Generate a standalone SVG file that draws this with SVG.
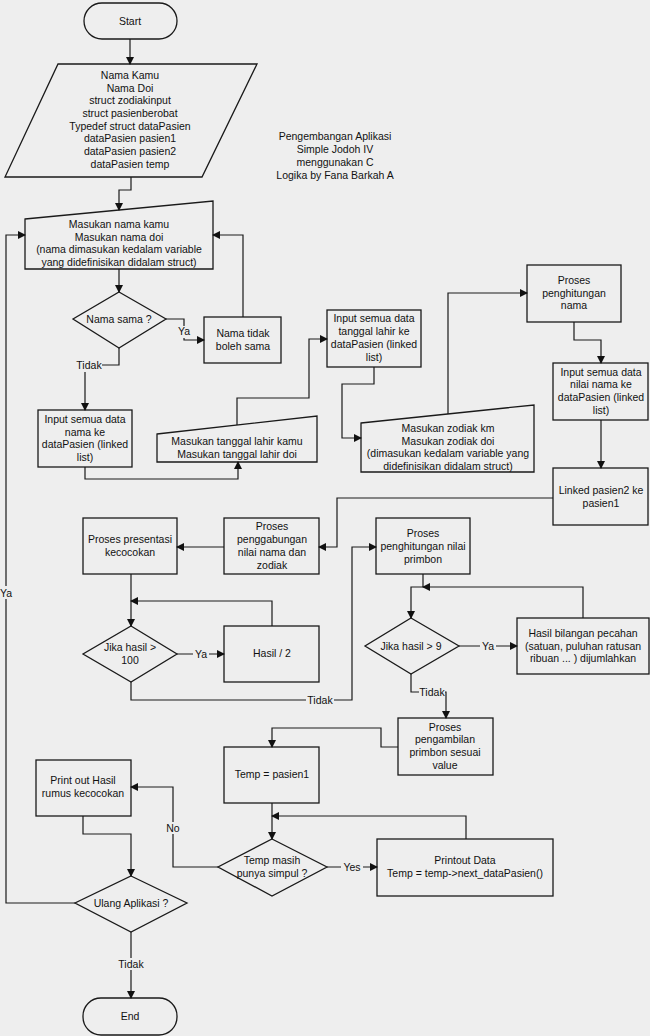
<svg xmlns="http://www.w3.org/2000/svg" width="650" height="1036" viewBox="0 0 650 1036">
<style>
.s{fill:none;stroke:#1a1a1a;stroke-width:1.3}
.c{fill:none;stroke:#1a1a1a;stroke-width:1.2}
text{font-family:"Liberation Sans",Arial,sans-serif;font-size:10.5px;fill:#111;text-anchor:middle}
.l{fill:#eeeeee}
</style>
<defs><marker id="a" markerWidth="8" markerHeight="8" refX="7" refY="4" orient="auto" markerUnits="userSpaceOnUse"><path d="M0,0 L8,4 L0,8 z" fill="#111"/></marker></defs>
<rect width="650" height="1036" fill="#eeeeee"/>
<g id="title"><text x="335" y="140">Pengembangan Aplikasi</text><text x="335" y="153">Simple Jodoh IV</text><text x="335" y="166">menggunakan C</text><text x="335" y="179">Logika by Fana Barkah A</text></g>
<g id="start"><rect class="s" x="84" y="3" width="93" height="36" rx="18"/><text x="130" y="25">Start</text></g>
<g id="decl"><path class="s" d="M58,64 L257,64 L202,177 L5,177 Z"/>
<text x="130" y="79">Nama Kamu</text><text x="130" y="92">Nama Doi</text><text x="130" y="104">struct zodiakinput</text><text x="130" y="117">struct pasienberobat</text><text x="130" y="130">Typedef struct dataPasien</text><text x="130" y="142">dataPasien pasien1</text><text x="130" y="155">dataPasien pasien2</text><text x="130" y="168">dataPasien temp</text></g>
<g id="inNama"><path class="s" d="M25,219 L213,201 L213,269 L25,269 Z"/>
<text x="119" y="228">Masukan nama kamu</text><text x="119" y="241">Masukan nama doi</text><text x="119" y="253">(nama dimasukan kedalam variable</text><text x="119" y="266">yang didefinisikan didalam struct)</text></g>
<g id="dNama"><path class="s" d="M119,292 L166,319 L119,348 L73,319 Z"/><text x="119" y="323">Nama sama ?</text></g>
<g id="tidakSama"><rect class="s" x="204" y="317" width="77" height="46"/><text x="243" y="337">Nama tidak</text><text x="243" y="350">boleh sama</text></g>
<g id="inputNama"><rect class="s" x="38" y="410" width="94" height="57"/><text x="85" y="423">Input semua data</text><text x="85" y="436">nama ke</text><text x="85" y="448">dataPasien (linked</text><text x="85" y="461">list)</text></g>
<g id="inTgl"><path class="s" d="M157,434 L317,416 L317,462 L157,462 Z"/><text x="237" y="445">Masukan tanggal lahir kamu</text><text x="237" y="458">Masukan tanggal lahir doi</text></g>
<g id="inputTgl"><rect class="s" x="327" y="310" width="94" height="57"/><text x="374" y="322">Input semua data</text><text x="374" y="335">tanggal lahir ke</text><text x="374" y="348">dataPasien (linked</text><text x="374" y="361">list)</text></g>
<g id="inZodiak"><path class="s" d="M361,423 L534,405 L534,472 L361,472 Z"/><text x="448" y="432">Masukan zodiak km</text><text x="448" y="445">Masukan zodiak doi</text><text x="448" y="457">(dimasukan kedalam variable yang</text><text x="448" y="470">didefinisikan didalam struct)</text></g>
<g id="prosNama"><rect class="s" x="527" y="265" width="94" height="57"/><text x="574" y="284">Proses</text><text x="574" y="297">penghitungan</text><text x="574" y="309">nama</text></g>
<g id="inputNilai"><rect class="s" x="553" y="363" width="95" height="57"/><text x="601" y="376">Input semua data</text><text x="601" y="388">nilai nama ke</text><text x="601" y="401">dataPasien (linked</text><text x="601" y="414">list)</text></g>
<g id="linked"><rect class="s" x="553" y="468" width="95" height="57"/><text x="601" y="494">Linked pasien2 ke</text><text x="601" y="507">pasien1</text></g>
<g id="gabung"><rect class="s" x="224" y="518" width="95" height="56"/><text x="272" y="530">Proses</text><text x="272" y="543">penggabungan</text><text x="272" y="556">nilai nama dan</text><text x="272" y="569">zodiak</text></g>
<g id="presentasi"><rect class="s" x="83" y="518" width="94" height="56"/><text x="130" y="543">Proses presentasi</text><text x="130" y="556">kecocokan</text></g>
<g id="d100"><path class="s" d="M131,626 L177,654 L131,682 L83,654 Z"/><text x="130" y="651">Jika hasil &gt;</text><text x="130" y="664">100</text></g>
<g id="hasil2"><rect class="s" x="224" y="626" width="95" height="56"/><text x="272" y="657">Hasil / 2</text></g>
<g id="primbon"><rect class="s" x="376" y="518" width="94" height="56"/><text x="423" y="537">Proses</text><text x="423" y="550">penghitungan nilai</text><text x="423" y="563">primbon</text></g>
<g id="d9"><path class="s" d="M411,618 L459,646 L411,674 L365,646 Z"/><text x="411" y="650">Jika hasil &gt; 9</text></g>
<g id="bilangan"><rect class="s" x="517" y="618" width="132" height="56"/><text x="583" y="637">Hasil bilangan pecahan</text><text x="583" y="650">(satuan, puluhan ratusan</text><text x="583" y="662">ribuan ... ) dijumlahkan</text></g>
<g id="ambil"><rect class="s" x="398" y="718" width="95" height="57"/><text x="445" y="731">Proses</text><text x="445" y="743">pengambilan</text><text x="445" y="756">primbon sesuai</text><text x="445" y="769">value</text></g>
<g id="temp"><rect class="s" x="224" y="747" width="95" height="56"/><text x="272" y="778">Temp = pasien1</text></g>
<g id="dTemp"><path class="s" d="M272,839 L327,867 L272,896 L218,867 Z"/><text x="272" y="864">Temp masih</text><text x="272" y="877">punya simpul ?</text></g>
<g id="printout"><rect class="s" x="377" y="839" width="176" height="57"/><text x="465" y="864">Printout Data</text><text x="465" y="877">Temp = temp-&gt;next_dataPasien()</text></g>
<g id="printHasil"><rect class="s" x="36" y="760" width="95" height="56"/><text x="83" y="784">Print out Hasil</text><text x="83" y="797">rumus kecocokan</text></g>
<g id="dUlang"><path class="s" d="M131,876 L187,903 L131,932 L75,903 Z"/><text x="131" y="907">Ulang Aplikasi ?</text></g>
<g id="end"><rect class="s" x="83" y="998" width="94" height="37" rx="18"/><text x="130" y="1020">End</text></g>
<g id="connectors">
<path class="c" d="M130,39 V64" marker-end="url(#a)"/>
<path class="c" d="M131,177 V190 H119 V210" marker-end="url(#a)"/>
<path class="c" d="M119,269 V292" marker-end="url(#a)"/>
<path class="c" d="M166,319 H184 V340 H204" marker-end="url(#a)"/>
<path class="c" d="M243,317 V235 H213" marker-end="url(#a)"/>
<path class="c" d="M119,348 V365 H102 M85,372 V410" marker-end="url(#a)"/>
<path class="c" d="M85,467 V479 H238 V462" marker-end="url(#a)"/>
<path class="c" d="M237,425 V398 H309 V339 H327" marker-end="url(#a)"/>
<path class="c" d="M374,367 V384 H342 V438 H361" marker-end="url(#a)"/>
<path class="c" d="M448,414 V293 H527" marker-end="url(#a)"/>
<path class="c" d="M574,322 V340 H601 V363" marker-end="url(#a)"/>
<path class="c" d="M601,420 V468" marker-end="url(#a)"/>
<path class="c" d="M553,498 H337 V547 H319" marker-end="url(#a)"/>
<path class="c" d="M224,547 H177" marker-end="url(#a)"/>
<path class="c" d="M131,574 V626" marker-end="url(#a)"/>
<path class="c" d="M272,626 V601 H131" marker-end="url(#a)"/>
<path class="c" d="M177,654 H224" marker-end="url(#a)"/>
<path class="c" d="M131,682 V700 H352 V547 H376" marker-end="url(#a)"/>
<path class="c" d="M423,574 V587 H411 V618" marker-end="url(#a)"/>
<path class="c" d="M583,618 V587 H423" marker-end="url(#a)"/>
<path class="c" d="M459,646 H517" marker-end="url(#a)"/>
<path class="c" d="M411,674 V692 H446 V718" marker-end="url(#a)"/>
<path class="c" d="M398,747 H381 V728 H272 V747" marker-end="url(#a)"/>
<path class="c" d="M272,803 V839" marker-end="url(#a)"/>
<path class="c" d="M466,839 V816 H272" marker-end="url(#a)"/>
<path class="c" d="M327,867 H377" marker-end="url(#a)"/>
<path class="c" d="M218,867 H173 V787 H131" marker-end="url(#a)"/>
<path class="c" d="M83,816 V834 H131 V876" marker-end="url(#a)"/>
<path class="c" d="M75,903 H6 V235 H25" marker-end="url(#a)"/>
<path class="c" d="M131,932 V998" marker-end="url(#a)"/>
<rect class="l" x="177" y="326" width="14" height="12"/><text x="184" y="335">Ya</text>
<text x="89" y="369">Tidak</text>
<rect class="l" x="193" y="648" width="16" height="12"/><text x="201" y="658">Ya</text>
<rect class="l" x="306" y="694" width="28" height="12"/><text x="320" y="704">Tidak</text>
<rect class="l" x="480" y="640" width="16" height="12"/><text x="488" y="650">Ya</text>
<rect class="l" x="419" y="686" width="26" height="12"/><text x="432" y="696">Tidak</text>
<rect class="l" x="341" y="861" width="22" height="12"/><text x="352" y="871">Yes</text>
<rect class="l" x="166" y="822" width="14" height="12"/><text x="173" y="832">No</text>
<rect class="l" x="0" y="586" width="13" height="13"/><text x="6" y="597">Ya</text>
<rect class="l" x="117" y="958" width="28" height="12"/><text x="131" y="968">Tidak</text>
</g>
</svg>
